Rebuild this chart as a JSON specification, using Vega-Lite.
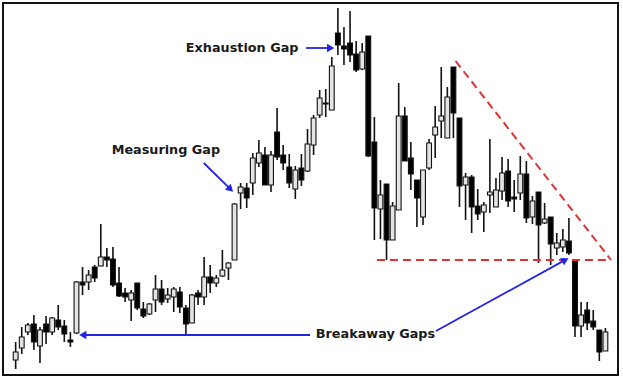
{
  "$schema": "https://vega.github.io/schema/vega-lite/v6.json",
  "autosize": {"type": "fit", "contains": "padding"},
  "width": 623,
  "height": 379,
  "padding": {"left": 3, "top": 3, "right": 5, "bottom": 4},
  "background": "white",
  "config": {
    "view": {"stroke": "#111", "strokeWidth": 2},
    "axis": {"disable": true}
  },
  "datasets": {
    "candles": [
      {"i":1,"o":40,"h":58,"l":31,"c":48},
      {"i":2,"o":52,"h":73,"l":46,"c":63},
      {"i":3,"o":68,"h":77,"l":65,"c":75},
      {"i":4,"o":76,"h":85,"l":50,"c":58},
      {"i":5,"o":54,"h":73,"l":37,"c":70},
      {"i":6,"o":76,"h":84,"l":56,"c":68},
      {"i":7,"o":68,"h":83,"l":65,"c":82},
      {"i":8,"o":80,"h":95,"l":70,"c":73},
      {"i":9,"o":74,"h":80,"l":58,"c":66},
      {"i":10,"o":60,"h":68,"l":53,"c":58},
      {"i":11,"o":67,"h":119,"l":66,"c":118},
      {"i":12,"o":118,"h":133,"l":105,"c":115},
      {"i":13,"o":118,"h":130,"l":110,"c":125},
      {"i":14,"o":133,"h":135,"l":118,"c":122},
      {"i":15,"o":134,"h":176,"l":134,"c":143},
      {"i":16,"o":143,"h":152,"l":133,"c":140},
      {"i":17,"o":141,"h":153,"l":113,"c":115},
      {"i":18,"o":117,"h":133,"l":103,"c":104},
      {"i":19,"o":107,"h":112,"l":98,"c":103},
      {"i":20,"o":100,"h":110,"l":79,"c":107},
      {"i":21,"o":117,"h":117,"l":90,"c":92},
      {"i":22,"o":91,"h":98,"l":82,"c":84},
      {"i":23,"o":86,"h":97,"l":85,"c":96},
      {"i":24,"o":100,"h":125,"l":88,"c":111},
      {"i":25,"o":111,"h":120,"l":95,"c":98},
      {"i":26,"o":101,"h":112,"l":97,"c":105},
      {"i":27,"o":103,"h":113,"l":88,"c":111},
      {"i":28,"o":108,"h":113,"l":87,"c":93},
      {"i":29,"o":92,"h":95,"l":64,"c":76},
      {"i":30,"o":77,"h":106,"l":77,"c":105},
      {"i":31,"o":107,"h":110,"l":95,"c":103},
      {"i":32,"o":103,"h":143,"l":95,"c":123},
      {"i":33,"o":123,"h":135,"l":107,"c":117},
      {"i":34,"o":117,"h":125,"l":113,"c":122},
      {"i":35,"o":124,"h":150,"l":123,"c":130},
      {"i":36,"o":132,"h":138,"l":120,"c":137},
      {"i":37,"o":140,"h":197,"l":140,"c":196},
      {"i":38,"o":207,"h":217,"l":191,"c":213},
      {"i":39,"o":212,"h":217,"l":192,"c":202},
      {"i":40,"o":217,"h":247,"l":205,"c":242},
      {"i":41,"o":237,"h":260,"l":233,"c":247},
      {"i":42,"o":245,"h":253,"l":215,"c":215},
      {"i":43,"o":215,"h":249,"l":208,"c":245},
      {"i":44,"o":268,"h":292,"l":240,"c":243},
      {"i":45,"o":245,"h":255,"l":230,"c":237},
      {"i":46,"o":233,"h":246,"l":212,"c":217},
      {"i":47,"o":211,"h":234,"l":201,"c":230},
      {"i":48,"o":232,"h":246,"l":214,"c":220},
      {"i":49,"o":229,"h":271,"l":228,"c":256},
      {"i":50,"o":255,"h":285,"l":245,"c":282},
      {"i":51,"o":285,"h":310,"l":282,"c":302},
      {"i":52,"o":297,"h":311,"l":283,"c":296},
      {"i":53,"o":290,"h":343,"l":290,"c":334},
      {"i":54,"o":367,"h":392,"l":345,"c":355},
      {"i":55,"o":354,"h":373,"l":335,"c":351},
      {"i":56,"o":357,"h":389,"l":338,"c":345},
      {"i":57,"o":346,"h":359,"l":328,"c":330},
      {"i":58,"o":331,"h":357,"l":330,"c":348},
      {"i":59,"o":364,"h":364,"l":243,"c":244},
      {"i":60,"o":258,"h":283,"l":160,"c":192},
      {"i":61,"o":191,"h":220,"l":161,"c":205},
      {"i":62,"o":216,"h":216,"l":140,"c":160},
      {"i":63,"o":160,"h":198,"l":160,"c":194},
      {"i":64,"o":190,"h":317,"l":190,"c":284},
      {"i":65,"o":284,"h":293,"l":239,"c":239},
      {"i":66,"o":242,"h":258,"l":210,"c":226},
      {"i":67,"o":220,"h":220,"l":173,"c":202},
      {"i":68,"o":183,"h":230,"l":175,"c":230},
      {"i":69,"o":232,"h":261,"l":230,"c":257},
      {"i":70,"o":265,"h":294,"l":242,"c":273},
      {"i":71,"o":279,"h":333,"l":262,"c":284},
      {"i":72,"o":262,"h":313,"l":262,"c":303},
      {"i":73,"o":333,"h":333,"l":262,"c":287},
      {"i":74,"o":282,"h":282,"l":193,"c":214},
      {"i":75,"o":215,"h":227,"l":180,"c":223},
      {"i":76,"o":223,"h":225,"l":167,"c":193},
      {"i":77,"o":194,"h":211,"l":180,"c":186},
      {"i":78,"o":188,"h":198,"l":168,"c":195},
      {"i":79,"o":205,"h":261,"l":187,"c":208},
      {"i":80,"o":193,"h":222,"l":193,"c":210},
      {"i":81,"o":209,"h":243,"l":200,"c":227},
      {"i":82,"o":229,"h":241,"l":193,"c":199},
      {"i":83,"o":203,"h":220,"l":188,"c":201},
      {"i":84,"o":207,"h":244,"l":200,"c":226},
      {"i":85,"o":226,"h":239,"l":177,"c":182},
      {"i":86,"o":183,"h":204,"l":176,"c":199},
      {"i":87,"o":208,"h":208,"l":137,"c":175},
      {"i":88,"o":177,"h":197,"l":176,"c":181},
      {"i":89,"o":183,"h":183,"l":135,"c":156},
      {"i":90,"o":152,"h":167,"l":145,"c":157},
      {"i":91,"o":153,"h":171,"l":148,"c":160},
      {"i":92,"o":159,"h":182,"l":145,"c":147},
      {"i":93,"o":140,"h":140,"l":63,"c":74},
      {"i":94,"o":74,"h":98,"l":63,"c":85},
      {"i":95,"o":90,"h":98,"l":70,"c":77},
      {"i":96,"o":79,"h":90,"l":70,"c":73},
      {"i":97,"o":70,"h":70,"l":39,"c":48},
      {"i":98,"o":49,"h":72,"l":49,"c":68}
    ],
    "trendlines": [
      {"name":"support","i":60.42,"p":140,"i2":98.93,"p2":140},
      {"name":"resistance","i":73.36,"p":339,"i2":98.93,"p2":140}
    ],
    "arrows": [
      {"label":"Exhaustion Gap","i":48.77,"p":352,"i2":52.81,"p2":352},
      {"label":"Measuring Gap","i":31.94,"p":237,"i2":36.33,"p2":210.8},
      {"label":"Breakaway Gaps","i":49.42,"p":65,"i2":12.04,"p2":65},
      {"label":"Breakaway Gaps","i":70.13,"p":69,"i2":91.41,"p2":140.1}
    ],
    "arrowheads": [
      {"i":52.81,"p":352,"dir":90},
      {"i":36.33,"p":210.8,"dir":134},
      {"i":12.04,"p":65,"dir":270},
      {"i":91.41,"p":140.1,"dir":62}
    ],
    "labels": [
      {"text":"Exhaustion Gap","i":38.25,"p":352},
      {"text":"Measuring Gap","i":25.71,"p":250},
      {"text":"Breakaway Gaps","i":60.18,"p":66}
    ]
  },
  "layer": [
    {
      "data": {"name": "candles"},
      "mark": {"type": "rule", "color": "#111", "strokeWidth": 1.6},
      "encoding": {
        "x": {"field": "i", "type": "quantitative", "scale": {"domain": [-0.26, 99.25], "nice": false, "zero": false}},
        "y": {"field": "l", "type": "quantitative", "scale": {"domain": [25, 397], "nice": false, "zero": false}},
        "y2": {"field": "h"}
      }
    },
    {
      "data": {"name": "candles"},
      "mark": {"type": "bar", "width": 4.8, "stroke": "#111", "strokeWidth": 1.1},
      "encoding": {
        "x": {"field": "i", "type": "quantitative"},
        "y": {"field": "o", "type": "quantitative"},
        "y2": {"field": "c"},
        "fill": {
          "condition": {"test": "datum.c >= datum.o", "value": "#e4e4e4"},
          "value": "#000"
        }
      }
    },
    {
      "data": {"name": "trendlines"},
      "mark": {"type": "rule", "color": "#e03232", "strokeWidth": 2, "strokeDash": [8, 5]},
      "encoding": {
        "x": {"field": "i", "type": "quantitative"},
        "y": {"field": "p", "type": "quantitative"},
        "x2": {"field": "i2"},
        "y2": {"field": "p2"}
      }
    },
    {
      "data": {"name": "arrows"},
      "mark": {"type": "rule", "color": "#2323e6", "strokeWidth": 1.8},
      "encoding": {
        "x": {"field": "i", "type": "quantitative"},
        "y": {"field": "p", "type": "quantitative"},
        "x2": {"field": "i2"},
        "y2": {"field": "p2"}
      }
    },
    {
      "data": {"name": "arrowheads"},
      "mark": {"type": "point", "shape": "triangle-up", "filled": true, "color": "#2323e6", "size": 70, "opacity": 1},
      "encoding": {
        "x": {"field": "i", "type": "quantitative"},
        "y": {"field": "p", "type": "quantitative"},
        "angle": {"field": "dir", "type": "quantitative", "scale": null}
      }
    },
    {
      "data": {"name": "labels"},
      "mark": {"type": "text", "font": "DejaVu Sans", "fontWeight": "bold", "fontSize": 12.8, "color": "#1a1a1a", "align": "center", "baseline": "middle"},
      "encoding": {
        "x": {"field": "i", "type": "quantitative"},
        "y": {"field": "p", "type": "quantitative"},
        "text": {"field": "text"}
      }
    }
  ]
}
